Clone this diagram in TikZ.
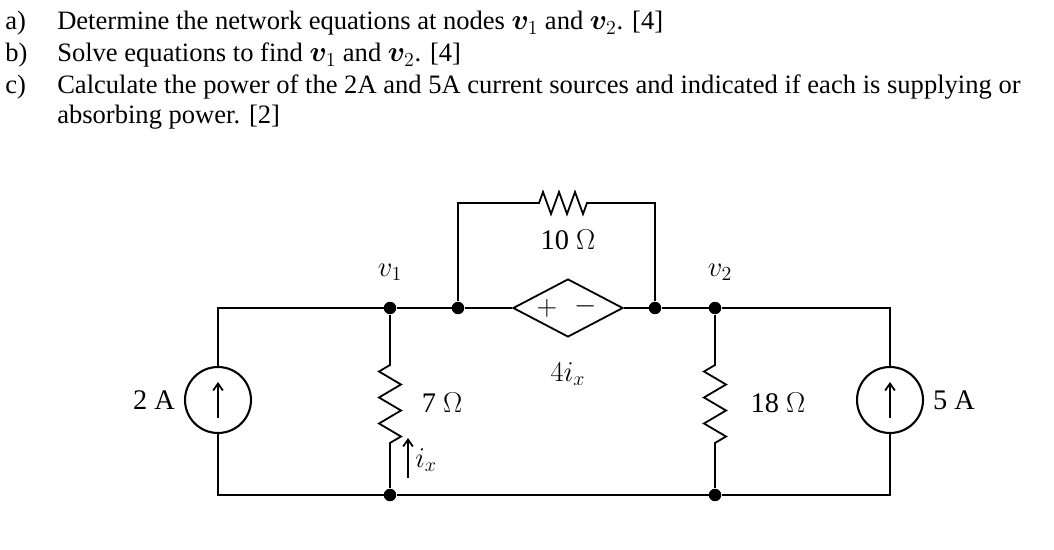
\documentclass[tikz,border=0pt]{standalone}
\usepackage{amsmath,bm}
\usepackage{fontspec}
\setmainfont{Liberation Serif}
\usetikzlibrary{arrows.meta,positioning,shapes.geometric}
\tikzset{
	wire/.style={line width=1.3pt},
	dot/.style={circle, fill, inner sep=0pt, minimum size=9pt},
	src/.style={circle, draw, line width=1.5pt, minimum size=66*0.0254cm, inner sep=0pt},
	lbl/.style={font=\fontsize{20.5}{21}\selectfont},
	line/.style={anchor=base west, font=\fontsize{19.2}{20}\selectfont, inner sep=0pt},
	tag/.style={anchor=base west, font=\fontsize{19.2}{20}\selectfont, inner sep=0pt},
}
\begin{document}
\begin{tikzpicture}[x=0.0254cm, y=-0.0254cm]
	\useasboundingbox (0,0) rectangle (1054,550);
	%questions
	\node[tag] (ta) at (5,30) {a)};
	\node[line] (qa) at (57,30) {Determine the network equations at nodes $\bm{v}_1$ and $\bm{v}_2$. [4]};
	\node[tag] (tb) at (5,62) {b)};
	\node[line] (qb) at (57,62) {Solve equations to find $\bm{v}_1$ and $\bm{v}_2$. [4]};
	\node[tag] (tc) at (5,94) {c)};
	\node[line] (qc) at (57,94) {Calculate the power of the 2A and 5A current sources and indicated if each is supplying or};
	\node[line] (qd) at (57,124) {absorbing power. [2]};

	%nodes
	\coordinate (tl) at (218,308);
	\coordinate (bl) at (218,495);
	\coordinate (tr) at (890,308);
	\coordinate (br) at (890,495);
	\node[dot] (n1) at (390,308) {};
	\node[dot] (n2) at (458,308) {};
	\node[dot] (n3) at (655,308) {};
	\node[dot] (n4) at (715,308) {};
	\node[dot] (b1) at (390,495) {};
	\node[dot] (b2) at (715,495) {};
	\node[diamond, draw, line width=1.3pt, minimum width=110*0.0254cm, minimum height=58*0.0254cm, inner sep=0pt] (dep) at (568,308) {};
	\node[src] (s1) at (218,400) {};
	\node[src] (s2) at (890,400) {};
	\coordinate (r1t) at (390,360);
	\coordinate (r1b) at (390,448);
	\coordinate (r2t) at (715,360);
	\coordinate (r2b) at (715,448);
	\coordinate (ct) at (458,203);
	\coordinate (dt) at (655,203);
	\coordinate (rt1) at (535,203);
	\coordinate (rt2) at (598,203);

	%wires
	\draw[wire] (s1) -- (tl) -- (n1) -- (n2) -- (dep.west);
	\draw[wire] (dep.east) -- (n3) -- (n4) -- (tr) -- (s2);
	\draw[wire] (s1) -- (bl) -- (b1) -- (b2) -- (br) -- (s2);
	\draw[wire] (n1) -- (r1t); \draw[wire] (r1b) -- (b1);
	\draw[wire] (n4) -- (r2t); \draw[wire] (r2b) -- (b2);
	\draw[wire] (n2) -- (ct) -- (rt1); \draw[wire] (rt2) -- (dt) -- (n3);
	%resistors
	\foreach \p in {r1t,r2t} {
		\draw[wire] (\p) -- ++(0,5) -- ++(-11,6.5) -- ++(22,13) -- ++(-22,13) -- ++(22,13) -- ++(-22,13) -- ++(22,13) -- ++(-11,6.5) -- ++(0,5);
	}
	\draw[wire] (rt1) -- ++(4,0) -- ++(4,-11) -- ++(8,22) -- ++(8,-22) -- ++(8,22) -- ++(8,-22) -- ++(8,22) -- ++(4,-11) -- (rt2);
	%sources
	\draw[wire, -{Straight Barb[length=5pt,width=7pt]}] (218,418) -- (218,382);
	\draw[wire, -{Straight Barb[length=5pt,width=7pt]}] (890,418) -- (890,382);
	\draw[wire, -{Straight Barb[length=5pt,width=7pt]}] (408,478) -- (408,438);
	%labels
	\node[lbl, left=3pt of s1] (l2a) {2 A};
	\node[lbl, right=3pt of s2] (l5a) {5 A};
	\node[lbl] (l7) at (442,403) {7 $\Omega$};
	\node[lbl] (l18) at (778,403) {18 $\Omega$};
	\node[lbl] (l10) at (568,240) {10 $\Omega$};
	\node[lbl] (lix) at (426,460) {$i_x$};
	\node[lbl] (l4ix) at (568,374) {$4i_x$};
	\node[lbl] (lv1) at (390,272) {$v_1$};
	\node[lbl] (lv2) at (720,272) {$v_2$};
	\node[lbl] (lp) at (547,308) {$+$};
	\node[lbl] (lm) at (586,306) {$-$};
\end{tikzpicture}
\end{document}
